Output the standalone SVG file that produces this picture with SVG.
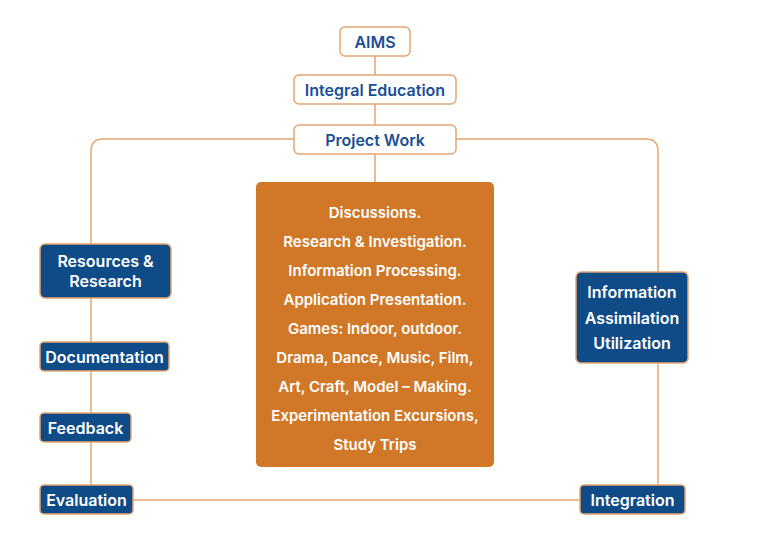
<svg xmlns="http://www.w3.org/2000/svg" width="768" height="549" viewBox="0 0 768 549">
<style>
.w{fill:#fff;stroke:#E6A470;stroke-width:1.5}
.n{fill:#0F4C87;stroke:#E6A470;stroke-width:1.5}
.t{font-family:"Inter","Liberation Sans",sans-serif;font-weight:600;font-size:16px;text-anchor:middle;dominant-baseline:central}
.tb{fill:#1A4F96}
.tw{fill:#fff}
.c{fill:none;stroke:#E6A470;stroke-width:1.5}
</style>
<rect width="768" height="549" fill="#fff"/>
<g id="connectors">
<path class="c" d="M375 56V75M375 104V125M375 154V182"/>
<path class="c" d="M294 139H103Q91 139 91 151V244M91 298V342M91 371V413M91 442V485"/>
<path class="c" d="M456 139H646Q658 139 658 151V272M658 363V485"/>
<path class="c" d="M133 500H580"/>
</g>
<g id="aims"><rect class="w" x="340" y="27" width="70" height="29" rx="5"/><text class="t tb" x="375" y="41.5">AIMS</text></g>
<g id="integral"><rect class="w" x="294" y="75" width="162" height="29" rx="5"/><text class="t tb" x="375" y="89.5">Integral Education</text></g>
<g id="project"><rect class="w" x="294" y="125" width="162" height="29" rx="5"/><text class="t tb" x="375" y="139.5">Project Work</text></g>
<g id="activities"><rect x="256" y="182" width="238" height="285" rx="5" fill="#D07828"/>
<g class="t tw" style="font-size:15px">
<text x="375" y="212">Discussions.</text>
<text x="375" y="241">Research &amp; Investigation.</text>
<text x="375" y="270">Information Processing.</text>
<text x="375" y="299">Application Presentation.</text>
<text x="375" y="328">Games: Indoor, outdoor.</text>
<text x="375" y="357">Drama, Dance, Music, Film,</text>
<text x="375" y="386">Art, Craft, Model – Making.</text>
<text x="375" y="415">Experimentation Excursions,</text>
<text x="375" y="444">Study Trips</text>
</g></g>
<g id="resources"><rect class="n" x="40" y="244" width="131" height="54" rx="5"/><text class="t tw" x="105.5" y="261">Resources &amp;</text><text class="t tw" x="105.5" y="281">Research</text></g>
<g id="documentation"><rect class="n" x="40" y="342" width="129" height="29" rx="4"/><text class="t tw" x="104.5" y="356.5">Documentation</text></g>
<g id="feedback"><rect class="n" x="40" y="413" width="91" height="29" rx="4"/><text class="t tw" x="85.5" y="427.5">Feedback</text></g>
<g id="evaluation"><rect class="n" x="40" y="485" width="93" height="29" rx="4"/><text class="t tw" x="86.5" y="499.5">Evaluation</text></g>
<g id="information"><rect class="n" x="576" y="272" width="112" height="91" rx="5"/><text class="t tw" x="632" y="292">Information</text><text class="t tw" x="632" y="317.5">Assimilation</text><text class="t tw" x="632" y="343">Utilization</text></g>
<g id="integration"><rect class="n" x="580" y="485" width="105" height="29" rx="4"/><text class="t tw" x="632.5" y="499.5">Integration</text></g>
</svg>
